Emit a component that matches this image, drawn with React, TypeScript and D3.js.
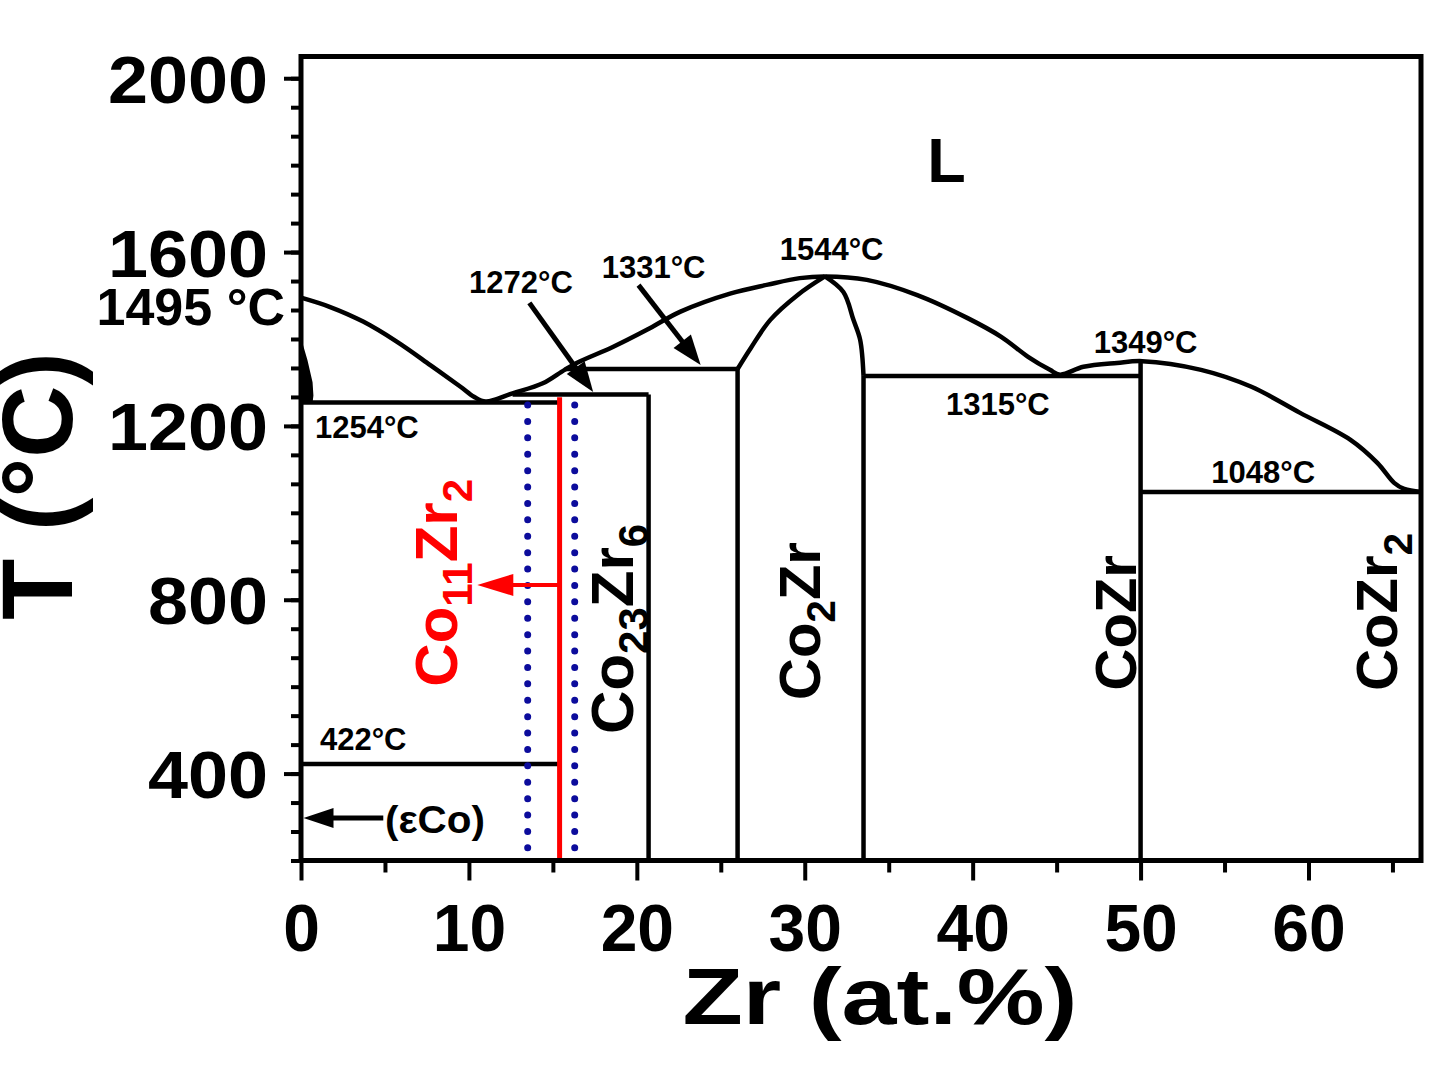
import React, { useEffect, useRef } from 'react';
import * as d3 from 'd3';

// Co-Zr phase diagram, x = Zr (at.%), y = T (°C)
const liquidus: [number, number][] = [
  [0, 1495], [1.7, 1474], [3.7, 1440], [5.7, 1394], [7.7, 1340], [9.5, 1290], [10.3, 1267], [11.0, 1256],
  [12.6, 1275], [14.4, 1298], [15.7, 1329], [16.6, 1348], [18.6, 1382], [20.6, 1421], [22.6, 1463],
  [25.6, 1505], [27.8, 1525], [29.7, 1540], [31.2, 1544], [33.7, 1536], [36.7, 1501], [39.7, 1448],
  [41.7, 1405], [43.3, 1359], [44.6, 1329], [45.2, 1318], [46.6, 1336], [48.6, 1345], [50.1, 1349],
  [53.6, 1329], [56.6, 1290], [59.5, 1230], [62.5, 1168], [64.1, 1115], [65.1, 1069], [65.7, 1055], [66.7, 1048]
];
const co2zrLeft: [number, number][] = [[26.0, 1331], [26.8, 1380], [27.95, 1444], [29.6, 1502], [31.2, 1544]];
const co2zrRight: [number, number][] = [[31.2, 1544], [32.3, 1508], [32.9, 1444], [33.3, 1398], [33.5, 1315]];
const coSolidus: [number, number][] = [[0, 1390], [0.3, 1350], [0.6, 1300], [0.65, 1270], [0.6, 1254], [0, 1254]];

// invariant (horizontal) lines
const invariants = [
  { T: 1254, x0: 0, x1: 15.4 },
  { T: 1272, x0: 12.6, x1: 20.7 },
  { T: 1331, x0: 15.8, x1: 26.0 },
  { T: 1315, x0: 33.5, x1: 50 },
  { T: 1048, x0: 50, x1: 66.7 },
  { T: 422, x0: 0, x1: 15.4 }
];
// compound (vertical) lines
const compounds = [
  { x: 20.7, T0: 200, T1: 1272 },
  { x: 26.0, T0: 200, T1: 1331 },
  { x: 33.5, T0: 200, T1: 1315 },
  { x: 50, T0: 200, T1: 1349 }
];
const redLine = { x: 15.4, T0: 200, T1: 1266 };
const blueLines = [
  { x: 13.5, T0: 228, T1: 1248 },
  { x: 16.3, T0: 228, T1: 1248 }
];

const tempLabels = [
  { text: '1544°C', x: 31.6, T: 1582, anchor: 'middle' },
  { text: '1331°C', x: 21.0, T: 1540, anchor: 'middle' },
  { text: '1272°C', x: 13.1, T: 1506, anchor: 'middle' },
  { text: '1254°C', x: 0.83, T: 1172, anchor: 'start' },
  { text: '1315°C', x: 41.5, T: 1225, anchor: 'middle' },
  { text: '1349°C', x: 50.3, T: 1368, anchor: 'middle' },
  { text: '1048°C', x: 57.3, T: 1069, anchor: 'middle' },
  { text: '422°C', x: 1.13, T: 455, anchor: 'start' }
];
// rotated phase names: [text, subscript] parts
const phaseNames = [
  { parts: [['Co', ''], ['23', 's'], ['Zr', ''], ['6', 's']], x: 19.8, T: 733, color: '#000', size: 60 },
  { parts: [['Co', ''], ['2', 's'], ['Zr', '']], x: 30.9, T: 751, color: '#000', size: 58 },
  { parts: [['CoZr', '']], x: 49.7, T: 747, color: '#000', size: 58 },
  { parts: [['CoZr', ''], ['2', 's']], x: 65.3, T: 772, color: '#000', size: 58 },
  { parts: [['Co', ''], ['11', 's'], ['Zr', ''], ['2', 's']], x: 9.3, T: 839, color: '#ff0000', size: 60 }
];
const arrows = [
  { from: [13.6, 1483], to: [17.4, 1278], color: '#000', w: 5, len: 30, half: 11 },
  { from: [20.1, 1524], to: [23.8, 1340], color: '#000', w: 5, len: 30, half: 11 },
  { from: [4.9, 298], to: [0.15, 298], color: '#000', w: 5, len: 30, half: 10 },
  { from: [15.4, 834], to: [10.5, 834], color: '#ff0000', w: 4, len: 36, half: 11 }
];

const xTicks = [0, 10, 20, 30, 40, 50, 60];
const xMinor = [5, 15, 25, 35, 45, 55, 65];
const yTicks = [400, 800, 1200, 1600, 2000];
const yMinor = d3.range(0, 28).map(k => 200 + (k * 400) / 6);

const FONT = 'Arial, "Liberation Sans", Helvetica, sans-serif';

function App() {
  const ref = useRef<SVGSVGElement>(null);

  useEffect(() => {
    const svg = d3.select(ref.current);
    svg.selectAll('*').remove();

    const left = 301, right = 1421, top = 56.5, bottom = 860.5;
    const x = d3.scaleLinear().domain([0, 66.7]).range([left, right]);
    const y = d3.scaleLinear().domain([200, 2050]).range([bottom, top]);

    const g = svg.append('g').attr('font-family', FONT).attr('font-weight', 'bold');

    // axes
    const xAxis = g.append('g').attr('transform', `translate(0,${bottom})`)
      .call(d3.axisBottom(x).tickValues(xTicks).tickSize(20).tickSizeOuter(0).tickFormat(d3.format('d')));
    const xAxisMinor = g.append('g').attr('transform', `translate(0,${bottom})`)
      .call(d3.axisBottom(x).tickValues(xMinor).tickSize(12).tickSizeOuter(0).tickFormat(() => ''));
    const yAxis = g.append('g').attr('transform', `translate(${left},0)`)
      .call(d3.axisLeft(y).tickValues(yTicks).tickSize(17).tickSizeOuter(0).tickFormat(d3.format('d')));
    const yAxisMinor = g.append('g').attr('transform', `translate(${left},0)`)
      .call(d3.axisLeft(y).tickValues(yMinor).tickSize(10).tickSizeOuter(0).tickFormat(() => ''));
    [xAxis, xAxisMinor, yAxis, yAxisMinor].forEach(a => {
      a.select('.domain').remove();
      a.selectAll('line').attr('stroke', '#000').attr('stroke-width', 4);
      a.attr('font-family', FONT).attr('font-weight', 'bold');
    });
    xAxis.selectAll('text').attr('font-size', 66).attr('fill', '#000').attr('y', 90).attr('dy', 0);
    yAxis.selectAll('text').attr('font-size', 66).attr('fill', '#000')
      .attr('x', -33).attr('dy', 0).attr('y', 24)
      .attr('textLength', (d: any) => String(d).length * 40).attr('lengthAdjust', 'spacingAndGlyphs');

    // axis titles
    g.append('text').attr('x', 880).attr('y', 1024).attr('text-anchor', 'middle')
      .attr('font-size', 80).attr('textLength', 395).attr('lengthAdjust', 'spacingAndGlyphs')
      .text('Zr (at.%)');
    g.append('text').attr('transform', 'translate(72,486) rotate(-90)').attr('text-anchor', 'middle')
      .attr('font-size', 100).text('T (°C)');

    const curve = d3.line<[number, number]>().x(d => x(d[0])).y(d => y(d[1])).curve(d3.curveCatmullRom.alpha(0.5));
    const plain = d3.line<[number, number]>().x(d => x(d[0])).y(d => y(d[1]));
    const lines = g.append('g').attr('fill', 'none').attr('stroke', '#000').attr('stroke-width', 4.5);

    lines.append('path').attr('d', curve(liquidus));
    lines.append('path').attr('d', curve(co2zrLeft));
    lines.append('path').attr('d', curve(co2zrRight));
    lines.append('path').attr('d', plain(coSolidus)).attr('fill', '#000').attr('stroke-width', 3);

    lines.selectAll('line.inv').data(invariants).enter().append('line')
      .attr('x1', d => x(d.x0)).attr('x2', d => x(d.x1)).attr('y1', d => y(d.T)).attr('y2', d => y(d.T));
    lines.selectAll('line.cmp').data(compounds).enter().append('line')
      .attr('x1', d => x(d.x)).attr('x2', d => x(d.x)).attr('y1', d => y(d.T0)).attr('y2', d => y(d.T1));

    // Co11Zr2 composition and its range
    g.selectAll('line.blue').data(blueLines).enter().append('line')
      .attr('x1', d => x(d.x)).attr('x2', d => x(d.x)).attr('y1', d => y(d.T1)).attr('y2', d => y(d.T0))
      .attr('stroke', '#0c0c9c').attr('stroke-width', 7).attr('stroke-linecap', 'round')
      .attr('stroke-dasharray', '0 16.4');
    g.append('line').attr('x1', x(redLine.x)).attr('x2', x(redLine.x))
      .attr('y1', y(redLine.T0)).attr('y2', y(redLine.T1))
      .attr('stroke', '#ff0000').attr('stroke-width', 5);

    // arrows
    arrows.forEach(a => {
      const x0 = x(a.from[0]), y0 = y(a.from[1]), x1 = x(a.to[0]), y1 = y(a.to[1]);
      const ang = Math.atan2(y1 - y0, x1 - x0);
      const bx = x1 - a.len * Math.cos(ang), by = y1 - a.len * Math.sin(ang);
      g.append('line').attr('x1', x0).attr('y1', y0).attr('x2', bx + 2 * Math.cos(ang)).attr('y2', by + 2 * Math.sin(ang))
        .attr('stroke', a.color).attr('stroke-width', a.w);
      const px = -Math.sin(ang) * a.half, py = Math.cos(ang) * a.half;
      g.append('polygon')
        .attr('points', `${x1},${y1} ${bx + px},${by + py} ${bx - px},${by - py}`)
        .attr('fill', a.color);
    });

    // temperature labels
    g.selectAll('text.tl').data(tempLabels).enter().append('text')
      .attr('x', d => x(d.x)).attr('y', d => y(d.T)).attr('text-anchor', d => d.anchor)
      .attr('font-size', 31).text(d => d.text);
    g.append('text').attr('x', x(0) - 16).attr('y', y(1432)).attr('text-anchor', 'end')
      .attr('font-size', 52).text('1495 °C');
    g.append('text').attr('x', x(5.0)).attr('y', y(264)).attr('font-size', 38)
      .attr('textLength', 100).attr('lengthAdjust', 'spacingAndGlyphs').text('(εCo)');
    g.append('text').attr('x', x(37.3)).attr('y', y(1761)).attr('font-size', 63).text('L');

    // phase names
    phaseNames.forEach(p => {
      const t = g.append('text')
        .attr('transform', `translate(${x(p.x)},${y(p.T)}) rotate(-90)`)
        .attr('text-anchor', 'middle').attr('font-size', p.size).attr('fill', p.color);
      let shifted = 0;
      p.parts.forEach(([s, kind]) => {
        const want = kind === 's' ? 15 : 0;
        t.append('tspan').attr('dy', want - shifted)
          .attr('font-size', kind === 's' ? p.size * 0.7 : p.size).text(s);
        shifted = want;
      });
    });

    // frame
    g.append('rect').attr('x', left).attr('y', top).attr('width', right - left).attr('height', bottom - top)
      .attr('fill', 'none').attr('stroke', '#000').attr('stroke-width', 5);
  }, []);

  return (
    <svg ref={ref} width={1451} height={1091}
      style={{ position: 'absolute', left: 0, top: 0, background: '#fff' }} />
  );
}

export default App;
